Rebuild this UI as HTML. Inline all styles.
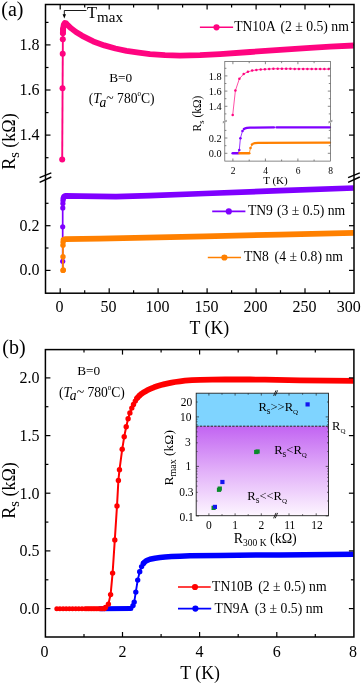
<!DOCTYPE html>
<html lang="en"><head><meta charset="utf-8"><title>Figure</title>
<style>html,body{margin:0;padding:0;background:#fff}svg{display:block}text{font-family:"Liberation Serif", "DejaVu Serif", serif}</style></head><body>
<svg width="361" height="685" viewBox="0 0 361 685">
<rect width="361" height="685" fill="#fff"/>
<defs><linearGradient id="pg" x1="0" y1="0" x2="0" y2="1"><stop offset="0" stop-color="#c264f2"/><stop offset="0.5" stop-color="#e2b0f9"/><stop offset="1" stop-color="#fdf6ff"/></linearGradient></defs>
<line x1="60.2" y1="293.2" x2="60.2" y2="288.2" stroke="#000" stroke-width="1.2"/>
<line x1="60.2" y1="4.5" x2="60.2" y2="9.5" stroke="#000" stroke-width="1.2"/>
<line x1="84.7" y1="293.2" x2="84.7" y2="290.2" stroke="#000" stroke-width="1.2"/>
<line x1="84.7" y1="4.5" x2="84.7" y2="7.5" stroke="#000" stroke-width="1.2"/>
<line x1="109.2" y1="293.2" x2="109.2" y2="288.2" stroke="#000" stroke-width="1.2"/>
<line x1="109.2" y1="4.5" x2="109.2" y2="9.5" stroke="#000" stroke-width="1.2"/>
<line x1="133.6" y1="293.2" x2="133.6" y2="290.2" stroke="#000" stroke-width="1.2"/>
<line x1="133.6" y1="4.5" x2="133.6" y2="7.5" stroke="#000" stroke-width="1.2"/>
<line x1="158.1" y1="293.2" x2="158.1" y2="288.2" stroke="#000" stroke-width="1.2"/>
<line x1="158.1" y1="4.5" x2="158.1" y2="9.5" stroke="#000" stroke-width="1.2"/>
<line x1="182.6" y1="293.2" x2="182.6" y2="290.2" stroke="#000" stroke-width="1.2"/>
<line x1="182.6" y1="4.5" x2="182.6" y2="7.5" stroke="#000" stroke-width="1.2"/>
<line x1="207.1" y1="293.2" x2="207.1" y2="288.2" stroke="#000" stroke-width="1.2"/>
<line x1="207.1" y1="4.5" x2="207.1" y2="9.5" stroke="#000" stroke-width="1.2"/>
<line x1="231.6" y1="293.2" x2="231.6" y2="290.2" stroke="#000" stroke-width="1.2"/>
<line x1="231.6" y1="4.5" x2="231.6" y2="7.5" stroke="#000" stroke-width="1.2"/>
<line x1="256.1" y1="293.2" x2="256.1" y2="288.2" stroke="#000" stroke-width="1.2"/>
<line x1="256.1" y1="4.5" x2="256.1" y2="9.5" stroke="#000" stroke-width="1.2"/>
<line x1="280.5" y1="293.2" x2="280.5" y2="290.2" stroke="#000" stroke-width="1.2"/>
<line x1="280.5" y1="4.5" x2="280.5" y2="7.5" stroke="#000" stroke-width="1.2"/>
<line x1="305.0" y1="293.2" x2="305.0" y2="288.2" stroke="#000" stroke-width="1.2"/>
<line x1="305.0" y1="4.5" x2="305.0" y2="9.5" stroke="#000" stroke-width="1.2"/>
<line x1="329.5" y1="293.2" x2="329.5" y2="290.2" stroke="#000" stroke-width="1.2"/>
<line x1="329.5" y1="4.5" x2="329.5" y2="7.5" stroke="#000" stroke-width="1.2"/>
<text x="59.6" y="312.4" font-size="16" text-anchor="middle" fill="#000" >0</text>
<text x="108.6" y="312.4" font-size="16" text-anchor="middle" fill="#000" >50</text>
<text x="157.5" y="312.4" font-size="16" text-anchor="middle" fill="#000" >100</text>
<text x="206.5" y="312.4" font-size="16" text-anchor="middle" fill="#000" >150</text>
<text x="255.5" y="312.4" font-size="16" text-anchor="middle" fill="#000" >200</text>
<text x="304.4" y="312.4" font-size="16" text-anchor="middle" fill="#000" >250</text>
<text x="348.8" y="312.4" font-size="16" text-anchor="middle" fill="#000" >300</text>
<line x1="45.5" y1="22.4" x2="48.5" y2="22.4" stroke="#000" stroke-width="1.2"/>
<line x1="354.0" y1="22.4" x2="351.0" y2="22.4" stroke="#000" stroke-width="1.2"/>
<line x1="45.5" y1="44.9" x2="50.5" y2="44.9" stroke="#000" stroke-width="1.2"/>
<line x1="354.0" y1="44.9" x2="349.0" y2="44.9" stroke="#000" stroke-width="1.2"/>
<text x="39.6" y="49.7" font-size="16" text-anchor="end" fill="#000" >1.8</text>
<line x1="45.5" y1="67.5" x2="48.5" y2="67.5" stroke="#000" stroke-width="1.2"/>
<line x1="354.0" y1="67.5" x2="351.0" y2="67.5" stroke="#000" stroke-width="1.2"/>
<line x1="45.5" y1="90.0" x2="50.5" y2="90.0" stroke="#000" stroke-width="1.2"/>
<line x1="354.0" y1="90.0" x2="349.0" y2="90.0" stroke="#000" stroke-width="1.2"/>
<text x="39.6" y="94.8" font-size="16" text-anchor="end" fill="#000" >1.6</text>
<line x1="45.5" y1="112.6" x2="48.5" y2="112.6" stroke="#000" stroke-width="1.2"/>
<line x1="354.0" y1="112.6" x2="351.0" y2="112.6" stroke="#000" stroke-width="1.2"/>
<line x1="45.5" y1="135.1" x2="50.5" y2="135.1" stroke="#000" stroke-width="1.2"/>
<line x1="354.0" y1="135.1" x2="349.0" y2="135.1" stroke="#000" stroke-width="1.2"/>
<text x="39.6" y="139.9" font-size="16" text-anchor="end" fill="#000" >1.4</text>
<line x1="45.5" y1="157.7" x2="48.5" y2="157.7" stroke="#000" stroke-width="1.2"/>
<line x1="354.0" y1="157.7" x2="351.0" y2="157.7" stroke="#000" stroke-width="1.2"/>
<line x1="45.5" y1="203.3" x2="48.5" y2="203.3" stroke="#000" stroke-width="1.2"/>
<line x1="354.0" y1="203.3" x2="351.0" y2="203.3" stroke="#000" stroke-width="1.2"/>
<line x1="45.5" y1="225.7" x2="50.5" y2="225.7" stroke="#000" stroke-width="1.2"/>
<line x1="354.0" y1="225.7" x2="349.0" y2="225.7" stroke="#000" stroke-width="1.2"/>
<text x="39.6" y="230.5" font-size="16" text-anchor="end" fill="#000" >0.2</text>
<line x1="45.5" y1="248.0" x2="48.5" y2="248.0" stroke="#000" stroke-width="1.2"/>
<line x1="354.0" y1="248.0" x2="351.0" y2="248.0" stroke="#000" stroke-width="1.2"/>
<line x1="45.5" y1="270.4" x2="50.5" y2="270.4" stroke="#000" stroke-width="1.2"/>
<line x1="354.0" y1="270.4" x2="349.0" y2="270.4" stroke="#000" stroke-width="1.2"/>
<text x="39.6" y="275.2" font-size="16" text-anchor="end" fill="#000" >0.0</text>
<clipPath id="ca"><rect x="45.5" y="4.5" width="308.2" height="288.7"/></clipPath>
<g clip-path="url(#ca)">
<line x1="62.7" y1="270.4" x2="62.7" y2="197.0" stroke="#7f00ff" stroke-width="1.7"/>
<circle cx="62.7" cy="261.3" r="2.6" fill="#7f00ff"/>
<circle cx="62.7" cy="226.8" r="2.6" fill="#7f00ff"/>
<circle cx="62.8" cy="207.9" r="2.6" fill="#7f00ff"/>
<circle cx="62.9" cy="203.5" r="2.6" fill="#7f00ff"/>
<circle cx="63.0" cy="200.5" r="2.6" fill="#7f00ff"/>
<polyline points="63.4,198.2 64.0,196.6 65.5,195.8 80.0,196.2 116.0,196.6 150.0,195.6 205.0,193.5 280.0,190.6 357.0,187.9" fill="none" stroke="#7f00ff" stroke-width="5.7" stroke-linecap="round" stroke-linejoin="round" />
<line x1="62.9" y1="270.4" x2="62.9" y2="240.0" stroke="#ff8000" stroke-width="1.8"/>
<circle cx="63.0" cy="270.4" r="2.7" fill="#ff8000"/>
<circle cx="63.3" cy="270.0" r="2.7" fill="#ff8000"/>
<circle cx="63.0" cy="256.7" r="2.7" fill="#ff8000"/>
<circle cx="63.0" cy="245.2" r="2.7" fill="#ff8000"/>
<circle cx="63.1" cy="242.0" r="2.7" fill="#ff8000"/>
<polyline points="63.5,239.6 65.0,239.1 100.0,238.6 205.0,236.4 280.0,234.6 357.0,232.9" fill="none" stroke="#ff8000" stroke-width="5.7" stroke-linecap="round" stroke-linejoin="round" />
<line x1="62.2" y1="159.6" x2="62.9" y2="30.0" stroke="#ff0480" stroke-width="1.9"/>
<circle cx="62.2" cy="159.6" r="3.0" fill="#ff0480"/>
<circle cx="62.5" cy="88.2" r="3.0" fill="#ff0480"/>
<circle cx="62.7" cy="53.7" r="3.0" fill="#ff0480"/>
<circle cx="62.8" cy="39.3" r="3.0" fill="#ff0480"/>
<circle cx="62.9" cy="33.0" r="3.0" fill="#ff0480"/>
<circle cx="63.0" cy="29.5" r="3.0" fill="#ff0480"/>
<polyline points="62.9,33.0 63.2,28.0 63.8,24.6 64.9,22.9 66.0,23.3 68.0,25.4 71.1,28.3 76.0,32.0 82.2,35.8 93.3,41.4 104.3,45.4 115.4,48.5 126.5,50.8 138.7,52.6 150.0,54.2 165.0,55.2 180.0,55.6 200.0,55.1 220.0,54.1 250.0,52.0 280.0,49.8 310.0,47.8 330.0,46.7 356.0,45.4" fill="none" stroke="#ff0480" stroke-width="5.8" stroke-linecap="round" stroke-linejoin="round" />
</g>
<rect x="224.8" y="61.6" width="105.6" height="99.5" fill="#fff" stroke="none"/>
<polyline points="232.7,115.0 235.4,90.6 239.4,78.7 243.7,74.0 247.9,71.8 252.2,70.6 256.4,69.9 260.7,69.5 264.9,69.2 269.2,69.0 273.4,68.8 277.7,68.7 281.9,68.8 286.2,68.8 290.4,68.8 294.7,68.9 298.9,68.9 303.2,68.9 307.4,68.9 311.7,69.0 315.9,69.0 320.2,69.0 324.4,69.1 328.7,69.1" fill="none" stroke="#ff0480" stroke-width="0.7" stroke-linecap="round" stroke-linejoin="round" />
<circle cx="232.7" cy="115.0" r="1.25" fill="#ff0480"/>
<circle cx="235.4" cy="90.6" r="1.25" fill="#ff0480"/>
<circle cx="239.4" cy="78.7" r="1.25" fill="#ff0480"/>
<circle cx="243.7" cy="74.0" r="1.25" fill="#ff0480"/>
<circle cx="247.9" cy="71.8" r="1.25" fill="#ff0480"/>
<circle cx="252.2" cy="70.6" r="1.25" fill="#ff0480"/>
<circle cx="256.4" cy="69.9" r="1.25" fill="#ff0480"/>
<circle cx="260.7" cy="69.5" r="1.25" fill="#ff0480"/>
<circle cx="264.9" cy="69.2" r="1.25" fill="#ff0480"/>
<circle cx="269.2" cy="69.0" r="1.25" fill="#ff0480"/>
<circle cx="273.4" cy="68.8" r="1.25" fill="#ff0480"/>
<circle cx="277.7" cy="68.7" r="1.25" fill="#ff0480"/>
<circle cx="281.9" cy="68.8" r="1.25" fill="#ff0480"/>
<circle cx="286.2" cy="68.8" r="1.25" fill="#ff0480"/>
<circle cx="290.4" cy="68.8" r="1.25" fill="#ff0480"/>
<circle cx="294.7" cy="68.9" r="1.25" fill="#ff0480"/>
<circle cx="298.9" cy="68.9" r="1.25" fill="#ff0480"/>
<circle cx="303.2" cy="68.9" r="1.25" fill="#ff0480"/>
<circle cx="307.4" cy="68.9" r="1.25" fill="#ff0480"/>
<circle cx="311.7" cy="69.0" r="1.25" fill="#ff0480"/>
<circle cx="315.9" cy="69.0" r="1.25" fill="#ff0480"/>
<circle cx="320.2" cy="69.0" r="1.25" fill="#ff0480"/>
<circle cx="324.4" cy="69.1" r="1.25" fill="#ff0480"/>
<circle cx="328.7" cy="69.1" r="1.25" fill="#ff0480"/>
<polyline points="232.7,153.3 238.4,153.3" fill="none" stroke="#7f00ff" stroke-width="2.6" stroke-linecap="round" stroke-linejoin="round" />
<polyline points="238.2,153.3 239.3,150.0 240.4,138.2 242.5,131.0 244.0,129.0 246.0,128.2" fill="none" stroke="#7f00ff" stroke-width="0.8" stroke-linecap="round" stroke-linejoin="round" />
<circle cx="239.3" cy="150.0" r="1.3" fill="#7f00ff"/>
<circle cx="240.4" cy="138.2" r="1.3" fill="#7f00ff"/>
<circle cx="242.5" cy="131.0" r="1.3" fill="#7f00ff"/>
<circle cx="244.0" cy="129.0" r="1.3" fill="#7f00ff"/>
<polyline points="245.2,128.4 247.0,127.9 250.0,127.6 274.0,127.4" fill="none" stroke="#7f00ff" stroke-width="2.3" stroke-linecap="round" stroke-linejoin="round" />
<polyline points="276.4,127.4 330.0,127.3" fill="none" stroke="#7f00ff" stroke-width="2.3" stroke-linecap="round" stroke-linejoin="round" stroke-linecap="butt"/>
<polyline points="239.6,153.3 249.2,153.3" fill="none" stroke="#ff8000" stroke-width="2.6" stroke-linecap="round" stroke-linejoin="round" />
<polyline points="249.3,153.3 250.5,148.0 252.0,144.5 254.0,143.3" fill="none" stroke="#ff8000" stroke-width="0.8" stroke-linecap="round" stroke-linejoin="round" />
<circle cx="250.5" cy="148.0" r="1.3" fill="#ff8000"/>
<circle cx="252.0" cy="144.5" r="1.3" fill="#ff8000"/>
<polyline points="253.4,143.5 255.0,143.1 258.0,142.9 330.0,142.7" fill="none" stroke="#ff8000" stroke-width="2.3" stroke-linecap="round" stroke-linejoin="round" stroke-linecap="butt"/>
<rect x="224.8" y="61.6" width="105.6" height="99.5" fill="none" stroke="#555" stroke-width="0.7"/>
<line x1="232.9" y1="161.1" x2="232.9" y2="158.5" stroke="#555" stroke-width="0.7"/>
<line x1="232.9" y1="61.6" x2="232.9" y2="64.2" stroke="#555" stroke-width="0.7"/>
<line x1="249.2" y1="161.1" x2="249.2" y2="159.5" stroke="#555" stroke-width="0.7"/>
<line x1="249.2" y1="61.6" x2="249.2" y2="63.2" stroke="#555" stroke-width="0.7"/>
<line x1="265.4" y1="161.1" x2="265.4" y2="158.5" stroke="#555" stroke-width="0.7"/>
<line x1="265.4" y1="61.6" x2="265.4" y2="64.2" stroke="#555" stroke-width="0.7"/>
<line x1="281.6" y1="161.1" x2="281.6" y2="159.5" stroke="#555" stroke-width="0.7"/>
<line x1="281.6" y1="61.6" x2="281.6" y2="63.2" stroke="#555" stroke-width="0.7"/>
<line x1="297.9" y1="161.1" x2="297.9" y2="158.5" stroke="#555" stroke-width="0.7"/>
<line x1="297.9" y1="61.6" x2="297.9" y2="64.2" stroke="#555" stroke-width="0.7"/>
<line x1="314.1" y1="161.1" x2="314.1" y2="159.5" stroke="#555" stroke-width="0.7"/>
<line x1="314.1" y1="61.6" x2="314.1" y2="63.2" stroke="#555" stroke-width="0.7"/>
<line x1="224.8" y1="68.3" x2="226.4" y2="68.3" stroke="#555" stroke-width="0.7"/>
<line x1="330.4" y1="68.3" x2="328.8" y2="68.3" stroke="#555" stroke-width="0.7"/>
<line x1="224.8" y1="75.9" x2="227.4" y2="75.9" stroke="#555" stroke-width="0.7"/>
<line x1="330.4" y1="75.9" x2="327.8" y2="75.9" stroke="#555" stroke-width="0.7"/>
<text x="221.6" y="79.6" font-size="10.3" text-anchor="end" fill="#000" >1.8</text>
<line x1="224.8" y1="83.5" x2="226.4" y2="83.5" stroke="#555" stroke-width="0.7"/>
<line x1="330.4" y1="83.5" x2="328.8" y2="83.5" stroke="#555" stroke-width="0.7"/>
<line x1="224.8" y1="91.1" x2="227.4" y2="91.1" stroke="#555" stroke-width="0.7"/>
<line x1="330.4" y1="91.1" x2="327.8" y2="91.1" stroke="#555" stroke-width="0.7"/>
<text x="221.6" y="94.8" font-size="10.3" text-anchor="end" fill="#000" >1.6</text>
<line x1="224.8" y1="98.7" x2="226.4" y2="98.7" stroke="#555" stroke-width="0.7"/>
<line x1="330.4" y1="98.7" x2="328.8" y2="98.7" stroke="#555" stroke-width="0.7"/>
<line x1="224.8" y1="106.3" x2="227.4" y2="106.3" stroke="#555" stroke-width="0.7"/>
<line x1="330.4" y1="106.3" x2="327.8" y2="106.3" stroke="#555" stroke-width="0.7"/>
<text x="221.6" y="110.0" font-size="10.3" text-anchor="end" fill="#000" >1.4</text>
<line x1="224.8" y1="113.9" x2="226.4" y2="113.9" stroke="#555" stroke-width="0.7"/>
<line x1="330.4" y1="113.9" x2="328.8" y2="113.9" stroke="#555" stroke-width="0.7"/>
<line x1="224.8" y1="130.4" x2="226.4" y2="130.4" stroke="#555" stroke-width="0.7"/>
<line x1="330.4" y1="130.4" x2="328.8" y2="130.4" stroke="#555" stroke-width="0.7"/>
<line x1="224.8" y1="138.0" x2="227.4" y2="138.0" stroke="#555" stroke-width="0.7"/>
<line x1="330.4" y1="138.0" x2="327.8" y2="138.0" stroke="#555" stroke-width="0.7"/>
<text x="221.6" y="141.7" font-size="10.3" text-anchor="end" fill="#000" >0.2</text>
<line x1="224.8" y1="145.7" x2="226.4" y2="145.7" stroke="#555" stroke-width="0.7"/>
<line x1="330.4" y1="145.7" x2="328.8" y2="145.7" stroke="#555" stroke-width="0.7"/>
<line x1="224.8" y1="153.3" x2="227.4" y2="153.3" stroke="#555" stroke-width="0.7"/>
<line x1="330.4" y1="153.3" x2="327.8" y2="153.3" stroke="#555" stroke-width="0.7"/>
<text x="221.6" y="157.0" font-size="10.3" text-anchor="end" fill="#000" >0.0</text>
<rect x="223.6" y="120.6" width="2.4" height="2.2" fill="#fff"/>
<line x1="222.8" y1="122.9" x2="226.8" y2="121.3" stroke="#555" stroke-width="0.6"/>
<line x1="222.8" y1="121.9" x2="226.8" y2="120.3" stroke="#555" stroke-width="0.6"/>
<rect x="329.2" y="120.6" width="2.4" height="2.2" fill="#fff"/>
<line x1="328.4" y1="122.9" x2="332.4" y2="121.3" stroke="#555" stroke-width="0.6"/>
<line x1="328.4" y1="121.9" x2="332.4" y2="120.3" stroke="#555" stroke-width="0.6"/>
<text x="233.1" y="173.9" font-size="9.5" text-anchor="middle" fill="#000" >2</text>
<text x="265.6" y="173.9" font-size="9.5" text-anchor="middle" fill="#000" >4</text>
<text x="298.1" y="173.9" font-size="9.5" text-anchor="middle" fill="#000" >6</text>
<text x="330.6" y="173.9" font-size="9.5" text-anchor="middle" fill="#000" >8</text>
<text x="275.4" y="183.9" font-size="11" text-anchor="middle" fill="#000" >T (K)</text>
<text transform="translate(201.3,113.5) rotate(-90)" font-size="11.5" text-anchor="middle">R<tspan font-size="8.5" dy="2.5">s</tspan><tspan dy="-2.5"> (kΩ)</tspan></text>
<rect x="45.5" y="4.5" width="308.5" height="288.7" fill="none" stroke="#000" stroke-width="1.5"/>
<line x1="39.6" y1="177.6" x2="51.3" y2="172.9" stroke="#000" stroke-width="1.4"/>
<line x1="39.6" y1="182.4" x2="51.3" y2="177.0" stroke="#000" stroke-width="1.4"/>
<line x1="348.1" y1="177.6" x2="359.8" y2="172.9" stroke="#000" stroke-width="1.4"/>
<line x1="348.1" y1="182.4" x2="359.8" y2="177.0" stroke="#000" stroke-width="1.4"/>
<text x="209.4" y="333.8" font-size="17.8" text-anchor="middle" fill="#000" >T (K)</text>
<text transform="translate(14.6,141.6) rotate(-90)" font-size="18" text-anchor="middle">R<tspan font-size="14.5" dy="4.2">s</tspan><tspan dy="-4.2"> (kΩ)</tspan></text>
<text x="1.3" y="15.5" font-size="20" text-anchor="start" fill="#000" >(a)</text>
<polyline points="86.4,10.5 64.3,10.5 64.3,15.5" fill="none" stroke="#000" stroke-width="0.9"/>
<polygon points="62.6,14.2 66,14.2 64.3,18.6" fill="#000"/>
<text x="87.0" y="17.9" font-size="16.5">T<tspan dy="4.4" font-size="15">max</tspan></text>
<text x="109.2" y="81.9" font-size="13.3" text-anchor="start" fill="#000" >B=0</text>
<text x="88.7" y="102.9" font-size="13.6">(<tspan font-style="italic">T</tspan><tspan font-style="italic" dy="3.8">a</tspan><tspan dy="-3.8">~ 780</tspan><tspan font-size="7" dy="-6.5">0</tspan><tspan dy="6.5">C)</tspan></text>
<line x1="199.9" y1="27.3" x2="233.1" y2="27.3" stroke="#ff0480" stroke-width="1.6"/>
<circle cx="216.5" cy="27.3" r="3.1" fill="#ff0480"/>
<text x="234.2" y="31.4" font-size="13.6" text-anchor="start" fill="#000" >TN10A</text>
<text x="280.5" y="31.4" font-size="13.7" text-anchor="start" fill="#000" >(2 ± 0.5) nm</text>
<line x1="212.2" y1="211.4" x2="245.4" y2="211.4" stroke="#7f00ff" stroke-width="1.6"/>
<circle cx="228.8" cy="211.4" r="3.1" fill="#7f00ff"/>
<text x="248.0" y="215.3" font-size="13.6" text-anchor="start" fill="#000" >TN9</text>
<text x="276.9" y="215.3" font-size="13.7" text-anchor="start" fill="#000" >(3 ± 0.5) nm</text>
<line x1="207.8" y1="257.5" x2="241.0" y2="257.5" stroke="#ff8000" stroke-width="1.6"/>
<circle cx="224.4" cy="257.5" r="3.1" fill="#ff8000"/>
<text x="244.0" y="261.4" font-size="13.6" text-anchor="start" fill="#000" >TN8</text>
<text x="274.6" y="261.4" font-size="13.7" text-anchor="start" fill="#000" >(4 ± 0.8) nm</text>
<clipPath id="cb"><rect x="45.4" y="349.6" width="308.1" height="287.4"/></clipPath>
<g clip-path="url(#cb)">
<polyline points="100.0,608.7 131.0,608.6" fill="none" stroke="#0000ff" stroke-width="5.0" stroke-linecap="round" stroke-linejoin="round" />
<polyline points="131.4,608.0 133.0,605.6 134.2,602.1 135.8,592.1 137.7,580.1 139.7,571.8 141.6,566.6 143.5,563.3" fill="none" stroke="#0000ff" stroke-width="1.9" stroke-linecap="round" stroke-linejoin="round" />
<circle cx="133.0" cy="605.6" r="2.7" fill="#0000ff"/>
<circle cx="134.2" cy="602.1" r="2.7" fill="#0000ff"/>
<circle cx="135.8" cy="592.1" r="2.7" fill="#0000ff"/>
<circle cx="137.7" cy="580.1" r="2.7" fill="#0000ff"/>
<circle cx="139.7" cy="571.8" r="2.7" fill="#0000ff"/>
<circle cx="141.6" cy="566.6" r="2.7" fill="#0000ff"/>
<circle cx="143.5" cy="563.3" r="2.7" fill="#0000ff"/>
<polyline points="143.5,563.3 145.0,561.7 146.6,560.6 149.9,559.3 155.0,558.2 160.0,557.5 165.0,557.0 171.5,556.6 180.0,556.2 190.0,555.8 220.0,555.4 280.0,554.9 357.0,554.2" fill="none" stroke="#0000ff" stroke-width="5.5" stroke-linecap="round" stroke-linejoin="round" />
<line x1="56.8" y1="608.7" x2="104.0" y2="608.7" stroke="#ff0000" stroke-width="1.5"/>
<circle cx="56.8" cy="608.7" r="2.5" fill="#ff0000"/>
<circle cx="59.9" cy="608.7" r="2.5" fill="#ff0000"/>
<circle cx="63.1" cy="608.7" r="2.5" fill="#ff0000"/>
<circle cx="66.2" cy="608.7" r="2.5" fill="#ff0000"/>
<circle cx="69.4" cy="608.7" r="2.5" fill="#ff0000"/>
<circle cx="72.5" cy="608.7" r="2.5" fill="#ff0000"/>
<circle cx="75.7" cy="608.7" r="2.5" fill="#ff0000"/>
<circle cx="78.8" cy="608.7" r="2.5" fill="#ff0000"/>
<circle cx="82.0" cy="608.7" r="2.5" fill="#ff0000"/>
<circle cx="85.1" cy="608.7" r="2.5" fill="#ff0000"/>
<circle cx="86.8" cy="608.7" r="2.5" fill="#ff0000"/>
<circle cx="88.4" cy="608.7" r="2.5" fill="#ff0000"/>
<circle cx="90.0" cy="608.7" r="2.5" fill="#ff0000"/>
<circle cx="91.6" cy="608.7" r="2.5" fill="#ff0000"/>
<circle cx="93.2" cy="608.7" r="2.5" fill="#ff0000"/>
<circle cx="94.8" cy="608.7" r="2.5" fill="#ff0000"/>
<circle cx="96.4" cy="608.7" r="2.5" fill="#ff0000"/>
<circle cx="98.0" cy="608.7" r="2.5" fill="#ff0000"/>
<circle cx="99.6" cy="608.7" r="2.5" fill="#ff0000"/>
<circle cx="101.2" cy="608.7" r="2.5" fill="#ff0000"/>
<circle cx="102.8" cy="608.7" r="2.5" fill="#ff0000"/>
<circle cx="104.4" cy="608.7" r="2.5" fill="#ff0000"/>
<polyline points="104.0,608.4 105.5,607.5 108.4,604.1 110.6,594.6 112.6,573.1 114.8,539.9 117.0,506.0 118.4,480.4 119.5,469.7 122.2,449.3 124.2,436.8 126.2,426.8 128.1,418.8 129.9,412.9 131.8,408.1 133.5,404.4 135.3,401.1 137.1,398.1 139.4,395.6" fill="none" stroke="#ff0000" stroke-width="2.0" stroke-linecap="round" stroke-linejoin="round" />
<circle cx="105.5" cy="607.5" r="2.7" fill="#ff0000"/>
<circle cx="108.4" cy="604.1" r="2.7" fill="#ff0000"/>
<circle cx="110.6" cy="594.6" r="2.7" fill="#ff0000"/>
<circle cx="112.6" cy="573.1" r="2.7" fill="#ff0000"/>
<circle cx="114.8" cy="539.9" r="2.7" fill="#ff0000"/>
<circle cx="117.0" cy="506.0" r="2.7" fill="#ff0000"/>
<circle cx="118.4" cy="480.4" r="2.7" fill="#ff0000"/>
<circle cx="119.5" cy="469.7" r="2.7" fill="#ff0000"/>
<circle cx="122.2" cy="449.3" r="2.7" fill="#ff0000"/>
<circle cx="124.2" cy="436.8" r="2.7" fill="#ff0000"/>
<circle cx="126.2" cy="426.8" r="2.7" fill="#ff0000"/>
<circle cx="128.1" cy="418.8" r="2.7" fill="#ff0000"/>
<circle cx="129.9" cy="412.9" r="2.7" fill="#ff0000"/>
<circle cx="131.8" cy="408.1" r="2.7" fill="#ff0000"/>
<circle cx="133.5" cy="404.4" r="2.7" fill="#ff0000"/>
<circle cx="135.3" cy="401.1" r="2.7" fill="#ff0000"/>
<circle cx="137.1" cy="398.1" r="2.7" fill="#ff0000"/>
<circle cx="139.4" cy="395.6" r="2.7" fill="#ff0000"/>
<polyline points="137.1,398.1 139.4,395.6 141.5,393.8 143.9,392.2 147.0,390.4 150.8,388.7 154.0,387.3 157.7,386.0 161.0,385.0 164.6,384.1 168.0,383.4 171.6,382.7 175.0,382.0 180.0,381.3 185.0,380.7 192.0,380.2 200.0,379.9 212.0,379.6 225.0,379.5 250.0,379.5 265.0,379.7 300.0,380.3 357.0,381.0" fill="none" stroke="#ff0000" stroke-width="5.8" stroke-linecap="round" stroke-linejoin="round" />
</g>
<rect x="196.2" y="393.2" width="132.3" height="33.0" fill="#7fd4ff"/>
<rect x="196.2" y="426.2" width="132.3" height="89.5" fill="url(#pg)"/>
<line x1="196.2" y1="426.2" x2="328.5" y2="426.2" stroke="#222" stroke-width="1.0" stroke-dasharray="2.4,1.2"/>
<rect x="196.2" y="393.2" width="132.3" height="122.5" fill="none" stroke="#222" stroke-width="0.9"/>
<line x1="196.2" y1="402.0" x2="197.7" y2="402.0" stroke="#222" stroke-width="0.7"/>
<line x1="328.5" y1="402.0" x2="327.0" y2="402.0" stroke="#222" stroke-width="0.7"/>
<text x="192.3" y="405.6" font-size="11.5" text-anchor="end" fill="#000" >20</text>
<line x1="196.2" y1="416.9" x2="199.0" y2="416.9" stroke="#222" stroke-width="0.7"/>
<line x1="328.5" y1="416.9" x2="325.7" y2="416.9" stroke="#222" stroke-width="0.7"/>
<text x="191.4" y="420.5" font-size="11.5" text-anchor="end" fill="#000" >10</text>
<line x1="196.2" y1="442.8" x2="197.7" y2="442.8" stroke="#222" stroke-width="0.7"/>
<line x1="328.5" y1="442.8" x2="327.0" y2="442.8" stroke="#222" stroke-width="0.7"/>
<text x="190.8" y="445.6" font-size="11.5" text-anchor="end" fill="#000" >3</text>
<line x1="196.2" y1="466.4" x2="199.0" y2="466.4" stroke="#222" stroke-width="0.7"/>
<line x1="328.5" y1="466.4" x2="325.7" y2="466.4" stroke="#222" stroke-width="0.7"/>
<text x="191.3" y="469.9" font-size="11.5" text-anchor="end" fill="#000" >1</text>
<line x1="196.2" y1="492.3" x2="197.7" y2="492.3" stroke="#222" stroke-width="0.7"/>
<line x1="328.5" y1="492.3" x2="327.0" y2="492.3" stroke="#222" stroke-width="0.7"/>
<text x="193.5" y="495.8" font-size="11.5" text-anchor="end" fill="#000" >0.3</text>
<line x1="196.2" y1="515.9" x2="199.0" y2="515.9" stroke="#222" stroke-width="0.7"/>
<line x1="328.5" y1="515.9" x2="325.7" y2="515.9" stroke="#222" stroke-width="0.7"/>
<text x="193.8" y="520.5" font-size="11.5" text-anchor="end" fill="#000" >0.1</text>
<line x1="196.2" y1="501.0" x2="197.7" y2="501.0" stroke="#222" stroke-width="0.5"/>
<line x1="328.5" y1="501.0" x2="327.0" y2="501.0" stroke="#222" stroke-width="0.5"/>
<line x1="196.2" y1="486.1" x2="197.7" y2="486.1" stroke="#222" stroke-width="0.5"/>
<line x1="328.5" y1="486.1" x2="327.0" y2="486.1" stroke="#222" stroke-width="0.5"/>
<line x1="196.2" y1="481.3" x2="197.7" y2="481.3" stroke="#222" stroke-width="0.5"/>
<line x1="328.5" y1="481.3" x2="327.0" y2="481.3" stroke="#222" stroke-width="0.5"/>
<line x1="196.2" y1="477.4" x2="197.7" y2="477.4" stroke="#222" stroke-width="0.5"/>
<line x1="328.5" y1="477.4" x2="327.0" y2="477.4" stroke="#222" stroke-width="0.5"/>
<line x1="196.2" y1="474.1" x2="197.7" y2="474.1" stroke="#222" stroke-width="0.5"/>
<line x1="328.5" y1="474.1" x2="327.0" y2="474.1" stroke="#222" stroke-width="0.5"/>
<line x1="196.2" y1="471.2" x2="197.7" y2="471.2" stroke="#222" stroke-width="0.5"/>
<line x1="328.5" y1="471.2" x2="327.0" y2="471.2" stroke="#222" stroke-width="0.5"/>
<line x1="196.2" y1="468.7" x2="197.7" y2="468.7" stroke="#222" stroke-width="0.5"/>
<line x1="328.5" y1="468.7" x2="327.0" y2="468.7" stroke="#222" stroke-width="0.5"/>
<line x1="196.2" y1="451.5" x2="197.7" y2="451.5" stroke="#222" stroke-width="0.5"/>
<line x1="328.5" y1="451.5" x2="327.0" y2="451.5" stroke="#222" stroke-width="0.5"/>
<line x1="196.2" y1="436.6" x2="197.7" y2="436.6" stroke="#222" stroke-width="0.5"/>
<line x1="328.5" y1="436.6" x2="327.0" y2="436.6" stroke="#222" stroke-width="0.5"/>
<line x1="196.2" y1="431.8" x2="197.7" y2="431.8" stroke="#222" stroke-width="0.5"/>
<line x1="328.5" y1="431.8" x2="327.0" y2="431.8" stroke="#222" stroke-width="0.5"/>
<line x1="196.2" y1="427.9" x2="197.7" y2="427.9" stroke="#222" stroke-width="0.5"/>
<line x1="328.5" y1="427.9" x2="327.0" y2="427.9" stroke="#222" stroke-width="0.5"/>
<line x1="196.2" y1="424.6" x2="197.7" y2="424.6" stroke="#222" stroke-width="0.5"/>
<line x1="328.5" y1="424.6" x2="327.0" y2="424.6" stroke="#222" stroke-width="0.5"/>
<line x1="196.2" y1="421.7" x2="197.7" y2="421.7" stroke="#222" stroke-width="0.5"/>
<line x1="328.5" y1="421.7" x2="327.0" y2="421.7" stroke="#222" stroke-width="0.5"/>
<line x1="196.2" y1="419.2" x2="197.7" y2="419.2" stroke="#222" stroke-width="0.5"/>
<line x1="328.5" y1="419.2" x2="327.0" y2="419.2" stroke="#222" stroke-width="0.5"/>
<line x1="208.9" y1="515.7" x2="208.9" y2="513.3" stroke="#222" stroke-width="0.7"/>
<line x1="208.9" y1="393.2" x2="208.9" y2="395.6" stroke="#222" stroke-width="0.7"/>
<line x1="222.0" y1="515.7" x2="222.0" y2="514.2" stroke="#222" stroke-width="0.7"/>
<line x1="222.0" y1="393.2" x2="222.0" y2="394.7" stroke="#222" stroke-width="0.7"/>
<line x1="235.1" y1="515.7" x2="235.1" y2="513.3" stroke="#222" stroke-width="0.7"/>
<line x1="235.1" y1="393.2" x2="235.1" y2="395.6" stroke="#222" stroke-width="0.7"/>
<line x1="248.2" y1="515.7" x2="248.2" y2="514.2" stroke="#222" stroke-width="0.7"/>
<line x1="248.2" y1="393.2" x2="248.2" y2="394.7" stroke="#222" stroke-width="0.7"/>
<line x1="261.3" y1="515.7" x2="261.3" y2="513.3" stroke="#222" stroke-width="0.7"/>
<line x1="261.3" y1="393.2" x2="261.3" y2="395.6" stroke="#222" stroke-width="0.7"/>
<line x1="289.0" y1="515.7" x2="289.0" y2="513.3" stroke="#222" stroke-width="0.7"/>
<line x1="289.0" y1="393.2" x2="289.0" y2="395.6" stroke="#222" stroke-width="0.7"/>
<line x1="302.6" y1="515.7" x2="302.6" y2="514.2" stroke="#222" stroke-width="0.7"/>
<line x1="302.6" y1="393.2" x2="302.6" y2="394.7" stroke="#222" stroke-width="0.7"/>
<line x1="316.2" y1="515.7" x2="316.2" y2="513.3" stroke="#222" stroke-width="0.7"/>
<line x1="316.2" y1="393.2" x2="316.2" y2="395.6" stroke="#222" stroke-width="0.7"/>
<text x="208.9" y="528.8" font-size="11.5" text-anchor="middle" fill="#000" >0</text>
<text x="235.1" y="528.8" font-size="11.5" text-anchor="middle" fill="#000" >1</text>
<text x="261.3" y="528.8" font-size="11.5" text-anchor="middle" fill="#000" >2</text>
<text x="289.8" y="528.8" font-size="11.5" text-anchor="middle" fill="#000" >11</text>
<text x="317.0" y="528.8" font-size="11.5" text-anchor="middle" fill="#000" >12</text>
<line x1="273.6" y1="395.8" x2="276.0" y2="390.4" stroke="#111" stroke-width="0.9"/>
<line x1="275.2" y1="395.8" x2="277.6" y2="390.4" stroke="#111" stroke-width="0.9"/>
<line x1="273.6" y1="518.3" x2="276.0" y2="512.9" stroke="#111" stroke-width="0.9"/>
<line x1="275.2" y1="518.3" x2="277.6" y2="512.9" stroke="#111" stroke-width="0.9"/>
<rect x="305.5" y="402.3" width="4.2" height="4.2" fill="#1414f0"/>
<rect x="220.3" y="479.9" width="4.2" height="4.2" fill="#1414f0"/>
<rect x="212.8" y="504.8" width="4.2" height="4.2" fill="#1414f0"/>
<rect x="254.1" y="449.9" width="4.2" height="4.2" fill="#0a8a2a"/>
<rect x="255.5" y="449.4" width="4.2" height="4.2" fill="#0a8a2a"/>
<rect x="216.9" y="487.7" width="4.2" height="4.2" fill="#0a8a2a"/>
<rect x="217.7" y="486.5" width="4.2" height="4.2" fill="#0a8a2a"/>
<rect x="211.5" y="505.8" width="4.2" height="4.2" fill="#0a8a2a"/>
<rect x="213.1" y="505.1" width="3.6" height="3.6" fill="#1414f0"/>
<text x="258.4" y="410.7" font-size="12.6">R<tspan font-size="9.5" dy="2.8">s</tspan><tspan dy="-2.8">&gt;&gt;R</tspan><tspan font-size="7" dy="2.8">Q</tspan></text>
<text x="274.2" y="454.1" font-size="12.6">R<tspan font-size="9.5" dy="2.8">s</tspan><tspan dy="-2.8">&lt;R</tspan><tspan font-size="7" dy="2.8">Q</tspan></text>
<text x="247.3" y="500.2" font-size="12.6">R<tspan font-size="9.5" dy="2.8">s</tspan><tspan dy="-2.8">&lt;&lt;R</tspan><tspan font-size="7" dy="2.8">Q</tspan></text>
<text x="332.0" y="429.9" font-size="12.6">R<tspan font-size="7" dy="2.8">Q</tspan></text>
<text x="233.7" y="542.8" font-size="14">R<tspan font-size="9.5" dy="2.9">300 K</tspan><tspan dy="-2.9"> (kΩ)</tspan></text>
<text transform="translate(172.8,457.8) rotate(-90)" font-size="13.5" text-anchor="middle">R<tspan font-size="10" dy="3.4">max</tspan><tspan dy="-3.4"> (kΩ)</tspan></text>
<rect x="45.4" y="349.6" width="308.5" height="287.4" fill="none" stroke="#000" stroke-width="1.5"/>
<line x1="84.0" y1="637.0" x2="84.0" y2="634.0" stroke="#000" stroke-width="1.2"/>
<line x1="84.0" y1="349.6" x2="84.0" y2="352.6" stroke="#000" stroke-width="1.2"/>
<line x1="122.5" y1="637.0" x2="122.5" y2="632.0" stroke="#000" stroke-width="1.2"/>
<line x1="122.5" y1="349.6" x2="122.5" y2="354.6" stroke="#000" stroke-width="1.2"/>
<line x1="161.1" y1="637.0" x2="161.1" y2="634.0" stroke="#000" stroke-width="1.2"/>
<line x1="161.1" y1="349.6" x2="161.1" y2="352.6" stroke="#000" stroke-width="1.2"/>
<line x1="199.6" y1="637.0" x2="199.6" y2="632.0" stroke="#000" stroke-width="1.2"/>
<line x1="199.6" y1="349.6" x2="199.6" y2="354.6" stroke="#000" stroke-width="1.2"/>
<line x1="238.2" y1="637.0" x2="238.2" y2="634.0" stroke="#000" stroke-width="1.2"/>
<line x1="238.2" y1="349.6" x2="238.2" y2="352.6" stroke="#000" stroke-width="1.2"/>
<line x1="276.8" y1="637.0" x2="276.8" y2="632.0" stroke="#000" stroke-width="1.2"/>
<line x1="276.8" y1="349.6" x2="276.8" y2="354.6" stroke="#000" stroke-width="1.2"/>
<line x1="315.3" y1="637.0" x2="315.3" y2="634.0" stroke="#000" stroke-width="1.2"/>
<line x1="315.3" y1="349.6" x2="315.3" y2="352.6" stroke="#000" stroke-width="1.2"/>
<text x="44.6" y="656.5" font-size="16" text-anchor="middle" fill="#000" >0</text>
<text x="122.5" y="656.5" font-size="16" text-anchor="middle" fill="#000" >2</text>
<text x="199.6" y="656.5" font-size="16" text-anchor="middle" fill="#000" >4</text>
<text x="276.8" y="656.5" font-size="16" text-anchor="middle" fill="#000" >6</text>
<text x="353.1" y="656.5" font-size="16" text-anchor="middle" fill="#000" >8</text>
<line x1="45.4" y1="608.6" x2="50.4" y2="608.6" stroke="#000" stroke-width="1.2"/>
<line x1="353.9" y1="608.6" x2="348.9" y2="608.6" stroke="#000" stroke-width="1.2"/>
<text x="39.4" y="614.1" font-size="16" text-anchor="end" fill="#000" >0.0</text>
<line x1="45.4" y1="579.8" x2="48.4" y2="579.8" stroke="#000" stroke-width="1.2"/>
<line x1="353.9" y1="579.8" x2="350.9" y2="579.8" stroke="#000" stroke-width="1.2"/>
<line x1="45.4" y1="550.9" x2="50.4" y2="550.9" stroke="#000" stroke-width="1.2"/>
<line x1="353.9" y1="550.9" x2="348.9" y2="550.9" stroke="#000" stroke-width="1.2"/>
<text x="39.4" y="556.4" font-size="16" text-anchor="end" fill="#000" >0.5</text>
<line x1="45.4" y1="522.1" x2="48.4" y2="522.1" stroke="#000" stroke-width="1.2"/>
<line x1="353.9" y1="522.1" x2="350.9" y2="522.1" stroke="#000" stroke-width="1.2"/>
<line x1="45.4" y1="493.2" x2="50.4" y2="493.2" stroke="#000" stroke-width="1.2"/>
<line x1="353.9" y1="493.2" x2="348.9" y2="493.2" stroke="#000" stroke-width="1.2"/>
<text x="39.4" y="498.8" font-size="16" text-anchor="end" fill="#000" >1.0</text>
<line x1="45.4" y1="464.4" x2="48.4" y2="464.4" stroke="#000" stroke-width="1.2"/>
<line x1="353.9" y1="464.4" x2="350.9" y2="464.4" stroke="#000" stroke-width="1.2"/>
<line x1="45.4" y1="435.6" x2="50.4" y2="435.6" stroke="#000" stroke-width="1.2"/>
<line x1="353.9" y1="435.6" x2="348.9" y2="435.6" stroke="#000" stroke-width="1.2"/>
<text x="39.4" y="441.1" font-size="16" text-anchor="end" fill="#000" >1.5</text>
<line x1="45.4" y1="406.7" x2="48.4" y2="406.7" stroke="#000" stroke-width="1.2"/>
<line x1="353.9" y1="406.7" x2="350.9" y2="406.7" stroke="#000" stroke-width="1.2"/>
<line x1="45.4" y1="377.9" x2="50.4" y2="377.9" stroke="#000" stroke-width="1.2"/>
<line x1="353.9" y1="377.9" x2="348.9" y2="377.9" stroke="#000" stroke-width="1.2"/>
<text x="39.4" y="383.4" font-size="16" text-anchor="end" fill="#000" >2.0</text>
<text x="200.2" y="678.8" font-size="17.8" text-anchor="middle" fill="#000" >T (K)</text>
<text transform="translate(14.6,490.5) rotate(-90)" font-size="18" text-anchor="middle">R<tspan font-size="14.5" dy="4.2">s</tspan><tspan dy="-4.2"> (kΩ)</tspan></text>
<text x="2.3" y="353.7" font-size="20" text-anchor="start" fill="#000" >(b)</text>
<text x="77.2" y="374.9" font-size="13.3" text-anchor="start" fill="#000" >B=0</text>
<text x="59" y="396.5" font-size="13.6">(<tspan font-style="italic">T</tspan><tspan font-style="italic" dy="3.8">a</tspan><tspan dy="-3.8">~ 780</tspan><tspan font-size="7" dy="-6.5">0</tspan><tspan dy="6.5">C)</tspan></text>
<line x1="178.0" y1="587.0" x2="210.7" y2="587.0" stroke="#ff0000" stroke-width="1.6"/>
<circle cx="195.0" cy="587.0" r="3.1" fill="#ff0000"/>
<text x="212.1" y="591.1" font-size="13.6" text-anchor="start" fill="#000" >TN10B</text>
<text x="258.2" y="591.1" font-size="13.7" text-anchor="start" fill="#000" >(2 ± 0.5) nm</text>
<line x1="178.0" y1="608.6" x2="211.2" y2="608.6" stroke="#0000ff" stroke-width="1.6"/>
<circle cx="195.4" cy="608.6" r="3.1" fill="#0000ff"/>
<text x="214.6" y="612.7" font-size="13.6" text-anchor="start" fill="#000" >TN9A</text>
<text x="254.8" y="612.7" font-size="13.7" text-anchor="start" fill="#000" >(3 ± 0.5) nm</text>
</svg></body></html>
